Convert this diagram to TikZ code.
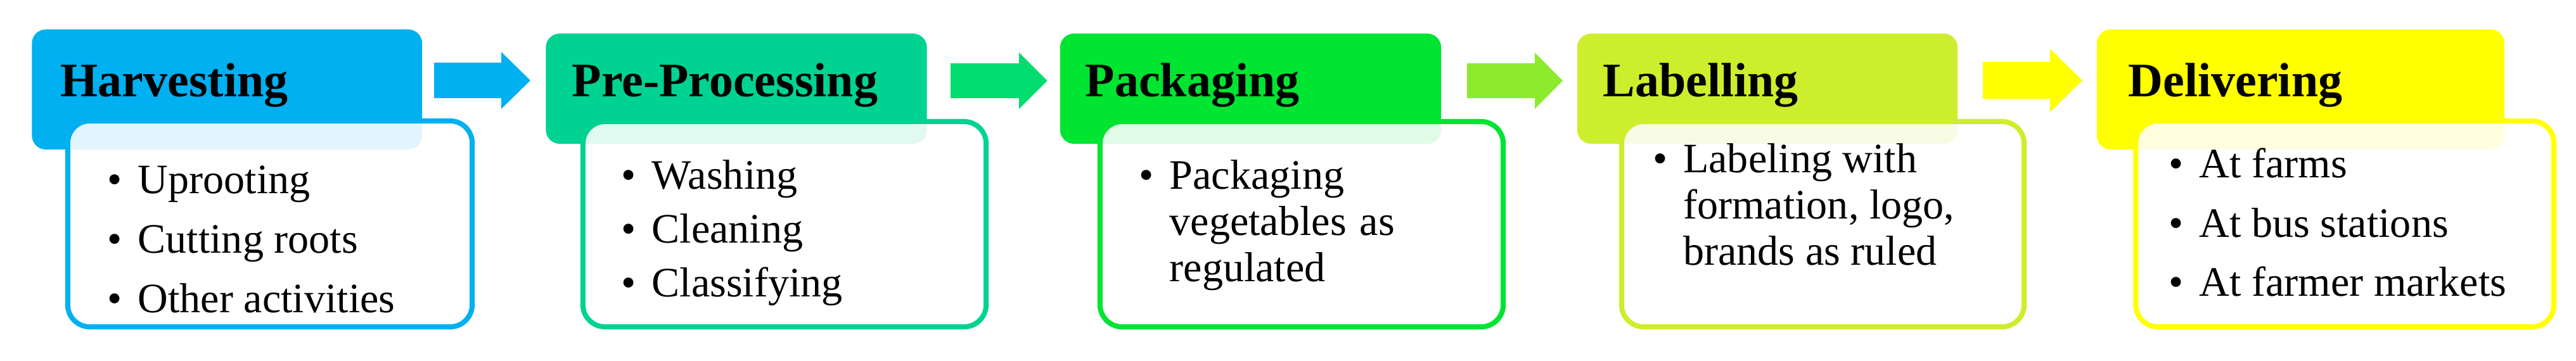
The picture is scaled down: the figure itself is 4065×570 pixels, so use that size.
\documentclass[tikz,border=0pt]{standalone}
\usepackage{fontspec}
\setmainfont{Liberation Serif}
\usetikzlibrary{calc}
\usetikzlibrary{positioning}
\definecolor{harvblue}{HTML}{00B0F0}
\definecolor{prepgreen}{HTML}{00D291}
\definecolor{packgreen}{HTML}{00E432}
\definecolor{labellime}{HTML}{CDEE2D}
\definecolor{delivyellow}{HTML}{FFFF00}
\definecolor{arrteal}{HTML}{00DC6E}
\definecolor{arrlime}{HTML}{8CEB2D}

\newcommand{\itm}{\makebox[0.48cm][l]{\textbullet}}
\newcommand{\nitm}{\makebox[0.48cm][l]{}}
\newcommand{\steps}[2]{\fontsize{18.8}{#1}\selectfont\begin{tabular}[t]{@{}l@{}}#2\end{tabular}}
\newcommand{\blockarrow}[6]{%
  \fill [#3] ($(#1)+(0,#5)$) -- ($(#2)+(-#4,#5)$) -- ($(#2)+(-#4,#6)$) -- (#2)
    -- ($(#2)+(-#4,-#6)$) -- ($(#2)+(-#4,-#5)$) -- ($(#1)+(0,-#5)$) -- cycle;}

\tikzset{
  head/.style={fill=#1, rounded corners=0.22cm, inner sep=0pt},
  body/.style={draw=#1, line width=0.08cm, fill=white, fill opacity=0.88, rounded corners=0.35cm, inner sep=0pt},
  headtext/.style={anchor=base west, inner sep=0pt, font=\fontsize{21.6}{26}\selectfont\bfseries},
  bodytext/.style={anchor=base west, inner sep=0pt},
}

\begin{document}
\begin{tikzpicture}[x=0.01cm, y=0.01cm]
    \useasboundingbox (0, 0) rectangle (4065, -570);

    \node [head=harvblue, minimum width=6.155cm, minimum height=1.895cm] (hHarv) at (358.25, -141.25) {};
    \node [head=prepgreen, minimum width=6.01cm, minimum height=1.74cm] (hPrep) at (1162, -140) {};
    \node [head=packgreen, minimum width=6.01cm, minimum height=1.74cm] (hPack) at (1973.5, -140) {};
    \node [head=labellime, minimum width=6.00cm, minimum height=1.74cm] (hLabel) at (2789, -140) {};
    \node [head=delivyellow, minimum width=6.43cm, minimum height=1.895cm] (hDeliv) at (3630.5, -141.25) {};

    \node [body=harvblue, minimum width=6.38cm, minimum height=3.25cm] (bHarv) at (426, -353.5) {};
    \node [body=prepgreen, minimum width=6.36cm, minimum height=3.24cm] (bPrep) at (1238, -354) {};
    \node [body=packgreen, minimum width=6.36cm, minimum height=3.24cm] (bPack) at (2054, -354) {};
    \node [body=labellime, minimum width=6.35cm, minimum height=3.24cm] (bLabel) at (2876.5, -354) {};
    \node [body=delivyellow, minimum width=6.595cm, minimum height=3.25cm] (bDeliv) at (3700.25, -353.5) {};

    \node [headtext] (tHarv) at (95, -153) {Harvesting};
    \node [headtext] (tPrep) at (902, -153) {Pre-Processing};
    \node [headtext] (tPack) at (1712, -153) {Packaging};
    \node [headtext] (tLabel) at (2529, -153) {Labelling};
    \node [headtext] (tDeliv) at (3358, -153) {Delivering};

    \node [bodytext] (lHarv) at (169, -305.5) {\steps{26.7}{\itm Uprooting\\ \itm Cutting roots\\ \itm Other activities}};
    \node [bodytext] (lPrep) at (980, -298) {\steps{24.3}{\itm Washing\\ \itm Cleaning\\ \itm Classifying}};
    \node [bodytext] (lPack) at (1797, -298) {\steps{20.8}{\itm Packaging\\ \nitm\makebox[3.55cm][s]{vegetables\hfill as}\\ \nitm regulated}};
    \node [bodytext] (lLabel) at (2607.5, -272) {\steps{20.8}{\itm Labeling with\\ \nitm formation, logo,\\ \nitm brands as ruled}};
    \node [bodytext] (lDeliv) at (3422, -281) {\steps{26.5}{\itm At farms\\ \itm At bus stations\\ \itm At farmer markets}};

    \coordinate (a1) at (685, -127);
    \coordinate (b1) at (837, -127);
    \coordinate (a2) at (1500, -127.5);
    \coordinate (b2) at (1652.5, -127.5);
    \coordinate (a3) at (2315, -127.5);
    \coordinate (b3) at (2466, -127.5);
    \coordinate (a4) at (3129, -127);
    \coordinate (b4) at (3286, -127);

    \blockarrow{a1}{b1}{harvblue}{46}{28}{45}
    \blockarrow{a2}{b2}{arrteal}{44.5}{27.5}{44.5}
    \blockarrow{a3}{b3}{arrlime}{44}{27.5}{44.5}
    \blockarrow{a4}{b4}{delivyellow}{51}{29}{50}
  \end{tikzpicture}
\end{document}
